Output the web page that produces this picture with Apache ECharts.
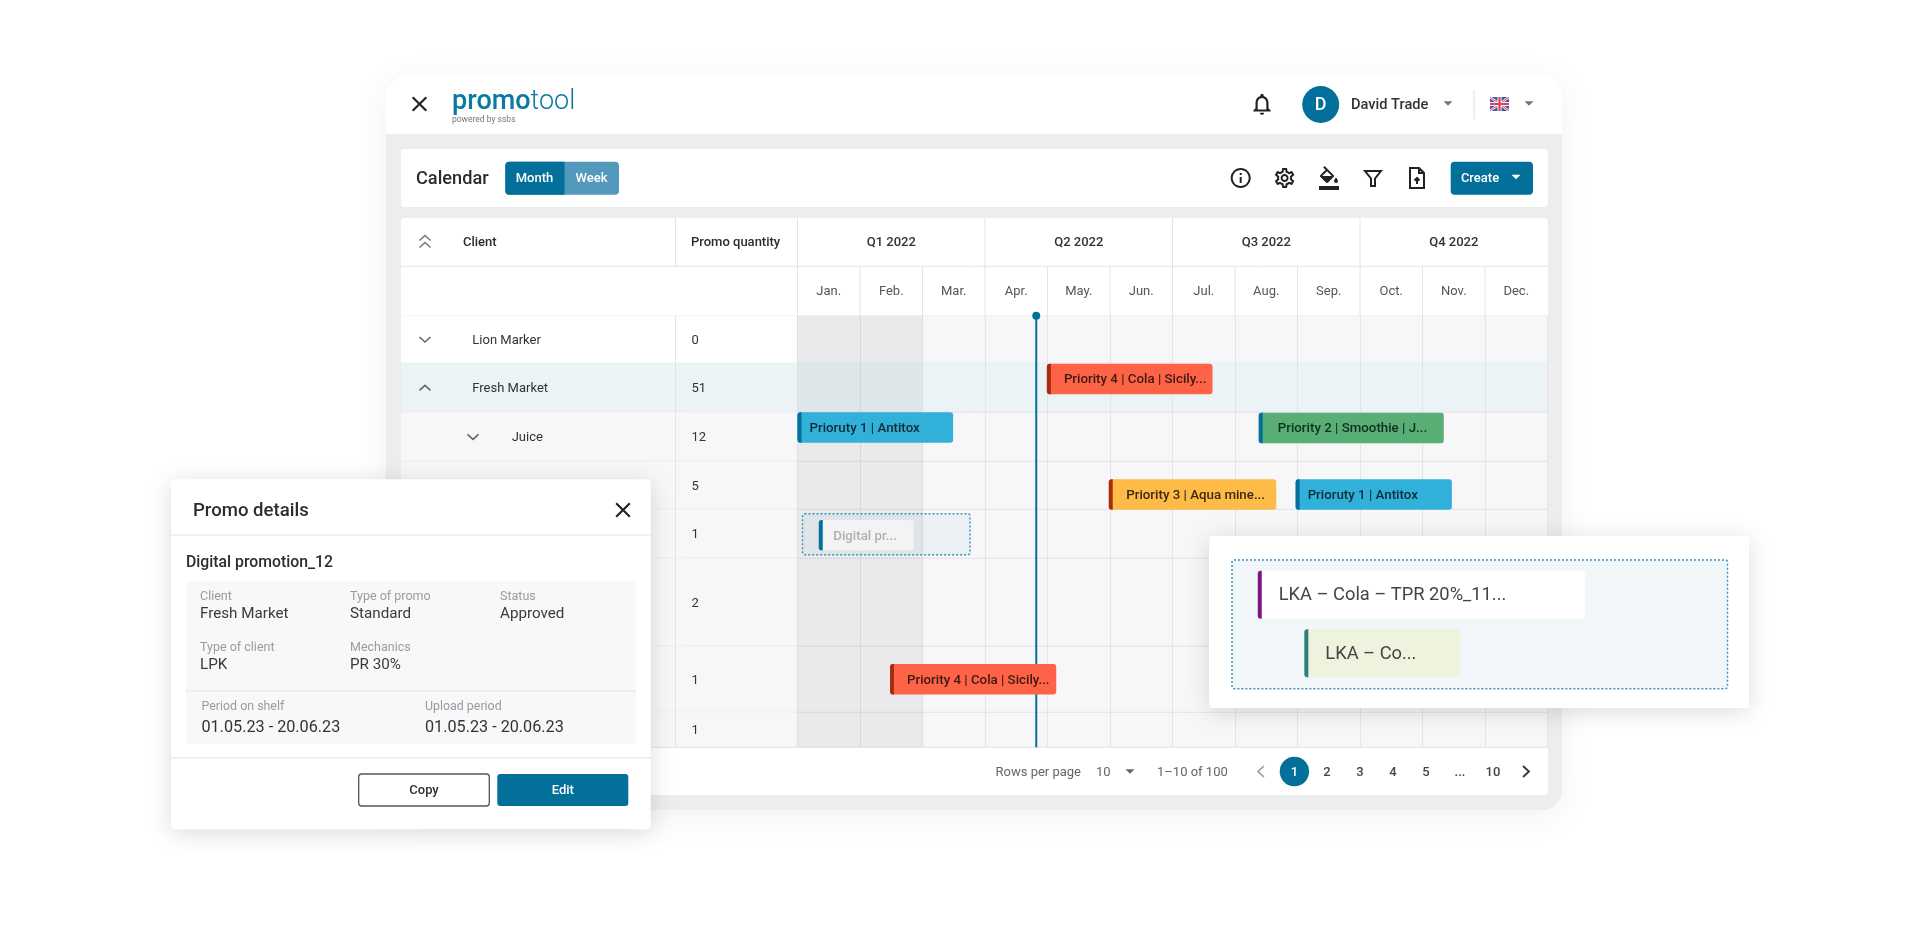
<!DOCTYPE html>
<html>
<head>
<meta charset="utf-8">
<title>promotool calendar</title>
<style>
    html, body { margin: 0; padding: 0; background: #fff; }
    #main { width: 1920px; height: 933px; }
</style>
<script src="https://cdn.jsdelivr.net/npm/echarts@6/dist/echarts.min.js"></script>
</head>
<body>
<div id="main"></div>
<script>
// table data
var months = ['Jan.', 'Feb.', 'Mar.', 'Apr.', 'May.', 'Jun.', 'Jul.', 'Aug.', 'Sep.', 'Oct.', 'Nov.', 'Dec.'];
var quarters = ['Q1 2022', 'Q2 2022', 'Q3 2022', 'Q4 2022'];
var clients = ['Lion Marker', 'Fresh Market', 'Juice', '', '', '', '', ''];
var quantities = [0, 51, 12, 5, 1, 2, 1, 1];
var shadedMonths = [0, 1];

// promos, start and end are in months from Jan.
var promoNames = ['Priority 4 | Cola | Sicily...', 'Prioruty 1 | Antitox', 'Priority 2 | Smoothie | J...', 'Priority 3 | Aqua mine...', 'Prioruty 1 | Antitox', 'Digital pr...', 'Priority 4 | Cola | Sicily...'];
var promoKinds = ['red', 'blue', 'green', 'yellow', 'blue', 'ghost', 'red'];
var promoRows = [1, 2, 2, 3, 3, 4, 6];
var promoLanes = [0.01, 0, 0.01, 0.375, 0.375, 0.22, 0.27];
var promoStart = [3.99, 0, 7.38, 4.98, 7.97, 0.34, 1.48];
var promoEnd = [6.64, 2.49, 10.34, 7.66, 10.47, 1.86, 4.14];
var slotRange = [0.08, 2.76];
var todayMonth = 3.82;

// zoomed card on the right, percent of its box
var cardNames = ['LKA \u2013 Cola \u2013 TPR 20%_11...', 'LKA \u2013 Co...'];
var cardStart = [5.2, 14.6];
var cardEnd = [71.3, 46];

// promo details popup
var detailLabels = ['Client', 'Type of promo', 'Status', 'Type of client', 'Mechanics'];
var detailValues = ['Fresh Market', 'Standard', 'Approved', 'LPK', 'PR 30%'];
var periodLabels = ['Period on shelf', 'Upload period'];
var periodValues = ['01.05.23 - 20.06.23', '01.05.23 - 20.06.23'];
var pageNumbers = ['2', '3', '4', '5', '...', '10'];

// layout
var rowHeights = [47.6, 49, 49, 48, 49, 88, 66, 35];
var kinds = {
    red: { fill: '#ff6347', stripe: '#a62c12', text: '#3a1a12', inset: 17 },
    blue: { fill: '#31b0d9', stripe: '#036f9b', text: '#0f2c38', inset: 12 },
    green: { fill: '#58ae75', stripe: '#036f9b', text: '#10301f', inset: 19 },
    yellow: { fill: '#ffbb47', stripe: '#a62c12', text: '#3d2a10', inset: 17.5 },
    ghost: { fill: '#f2f3f4', stripe: '#036f9b', text: '#aeb0b2', inset: 14.5 }
};
var cardKinds = [
    { fill: '#ffffff', stripe: '#7b1689', text: '#444444', inset: 21 },
    { fill: '#edf3dc', stripe: '#2f7f7c', text: '#444444', inset: 21 }
];
var FONT = 'Roboto';
var BLUE = '#036f9b';
var LINE = '#e3e4e6';
var TEXT_DY = 1; // Roboto sits a little high with verticalAlign middle

function rowTop(i) {
    var y = 0;
    for (var k = 0; k < i; k++) {
        y += rowHeights[k];
    }
    return y;
}

function txt(x, y, text, size, color, weight, align, z) {
    return {
        type: 'text', x: x, y: y + TEXT_DY, z: z,
        style: {
            text: text, fontSize: size, fontFamily: FONT, fontWeight: weight || 400,
            fill: color, align: align || 'left', verticalAlign: 'middle'
        }
    };
}

function box(x, y, w, h, fill, r, z, extra) {
    var style = { fill: fill };
    for (var k in extra) {
        style[k] = extra[k];
    }
    return { type: 'rect', z: z, shape: { x: x, y: y, width: w, height: h, r: r || 0 }, style: style };
}

function hline(x1, x2, y, color, z, width) {
    return { type: 'line', z: z, shape: { x1: x1, y1: y, x2: x2, y2: y }, style: { stroke: color, lineWidth: width || 1 } };
}

function vline(x, y1, y2, color, z, width) {
    return { type: 'line', z: z, shape: { x1: x, y1: y1, x2: x, y2: y2 }, style: { stroke: color, lineWidth: width || 1 } };
}

function chevron(cx, cy, w, h, color, z, width) {
    // h negative points up
    return {
        type: 'polyline', z: z,
        shape: { points: [[cx - w, cy - h], [cx, cy + h], [cx + w, cy - h]] },
        style: { stroke: color, lineWidth: width || 1.6, fill: null }
    };
}

function caret(cx, cy, color, z, size) {
    var s = size || 5;
    return {
        type: 'polygon', z: z,
        shape: { points: [[cx - s, cy - s / 2], [cx + s, cy - s / 2], [cx, cy + s / 2]] },
        style: { fill: color }
    };
}

var ICONS = {
    close: 'M19 6.41 17.59 5 12 10.59 6.41 5 5 6.41 10.59 12 5 17.59 6.41 19 12 13.41 17.59 19 19 17.59 13.41 12z',
    bell: 'M12 22c1.1 0 2-.9 2-2h-4c0 1.1.9 2 2 2zm6-6v-5c0-3.07-1.63-5.64-4.5-6.32V4c0-.83-.67-1.5-1.5-1.5s-1.5.67-1.5 1.5v.68C7.64 5.36 6 7.92 6 11v5l-2 2v1h16v-1l-2-2zm-2 1H8v-6c0-2.48 1.51-4.5 4-4.5s4 2.02 4 4.5v6z',
    info: 'M11 7h2v2h-2zm0 4h2v6h-2zm1-9C6.48 2 2 6.48 2 12s4.48 10 10 10 10-4.48 10-10S17.52 2 12 2zm0 18c-4.41 0-8-3.59-8-8s3.59-8 8-8 8 3.59 8 8-3.59 8-8 8z',
    gear: 'M19.43 12.98c.04-.32.07-.64.07-.98 0-.34-.03-.66-.07-.98l2.11-1.65c.19-.15.24-.42.12-.64l-2-3.46c-.09-.16-.26-.25-.44-.25-.06 0-.12.01-.17.03l-2.49 1c-.52-.4-1.08-.73-1.69-.98l-.38-2.65C14.46 2.18 14.25 2 14 2h-4c-.25 0-.46.18-.49.42l-.38 2.65c-.61.25-1.17.59-1.69.98l-2.49-1c-.06-.02-.12-.03-.18-.03-.17 0-.34.09-.43.25l-2 3.46c-.13.22-.07.49.12.64l2.11 1.65c-.04.32-.07.65-.07.98 0 .33.03.66.07.98l-2.11 1.65c-.19.15-.24.42-.12.64l2 3.46c.09.16.26.25.44.25.06 0 .12-.01.17-.03l2.49-1c.52.4 1.08.73 1.69.98l.38 2.65c.03.24.24.42.49.42h4c.25 0 .46-.18.49-.42l.38-2.65c.61-.25 1.17-.59 1.69-.98l2.49 1c.06.02.12.03.18.03.17 0 .34-.09.43-.25l2-3.46c.12-.22.07-.49-.12-.64l-2.11-1.65zm-1.98-1.71c.04.31.05.52.05.73 0 .21-.02.43-.05.73l-.14 1.13.89.7 1.08.84-.7 1.21-1.27-.51-1.04-.42-.9.68c-.43.32-.84.56-1.25.73l-1.06.43-.16 1.13-.2 1.35h-1.4l-.19-1.35-.16-1.13-1.06-.43c-.43-.18-.83-.41-1.23-.71l-.91-.7-1.06.43-1.27.51-.7-1.21 1.08-.84.89-.7-.14-1.13c-.03-.31-.05-.54-.05-.74s.02-.43.05-.73l.14-1.13-.89-.7-1.08-.84.7-1.21 1.27.51 1.04.42.9-.68c.43-.32.84-.56 1.25-.73l1.06-.43.16-1.13.2-1.35h1.39l.19 1.35.16 1.13 1.06.43c.43.18.83.41 1.23.71l.91.7 1.06-.43 1.27-.51.7 1.21-1.07.85-.89.7.14 1.13zM12 8c-2.21 0-4 1.79-4 4s1.79 4 4 4 4-1.79 4-4-1.79-4-4-4zm0 6c-1.1 0-2-.9-2-2s.9-2 2-2 2 .9 2 2-.9 2-2 2z',
    bucket: 'M16.56 8.94 7.62 0 6.21 1.41l2.38 2.38-5.15 5.15c-.59.59-.59 1.54 0 2.12l5.5 5.5c.29.29.68.44 1.06.44s.77-.15 1.06-.44l5.5-5.5c.59-.58.59-1.53 0-2.12zM5.21 10 10 5.21 14.79 10H5.21zM19 11.5s-2 2.17-2 3.5c0 1.1.9 2 2 2s2-.9 2-2c0-1.33-2-3.5-2-3.5zM2 20h20v4H2z',
    filter: 'M4 5h16l-6 7.5V20h-4v-7.5z',
    file: 'M6 2h8l5 5v15H5V2zM14 2v5h5M12 18v-6M9.5 14.5 12 12l2.5 2.5'
};

// graphic has no plain path type, so the icons are registered as shapes
for (var iconName in ICONS) {
    echarts.graphic.registerShape('icon_' + iconName, echarts.graphic.extendPath(ICONS[iconName], {}));
}

function icon(name, cx, cy, size, z, style) {
    var s = size / 24;
    return {
        type: 'icon_' + name, z: z,
        x: cx - size / 2, y: cy - size / 2, scaleX: s, scaleY: s,
        style: style || { fill: '#222222' }
    };
}

// window, toolbar and table frame, all below the chart grid
function chromeElements() {
    var z = -5;
    var els = [];
    els.push(box(386, 75, 1176, 735, '#ecedef', 20, z, { shadowBlur: 36, shadowColor: 'rgba(0,0,0,0.06)', shadowOffsetY: 6 }));
    els.push(box(386, 75, 1176, 59, '#ffffff', [20, 20, 0, 0], z));
    els.push(icon('close', 419.5, 104, 26, z));
    els.push({
        type: 'text', x: 452, y: 102.5, z: z,
        style: {
            text: '{a|promo}{b|tool}', fontFamily: FONT, verticalAlign: 'middle',
            rich: {
                a: { fontSize: 27, fontWeight: 500, fontFamily: FONT, fill: '#0a7aa0' },
                b: { fontSize: 27, fontWeight: 300, fontFamily: FONT, fill: '#0a7aa0' }
            }
        }
    });
    els.push(txt(452, 119, 'powered by ssbs', 8.5, '#777777', 400, 'left', z));
    els.push(icon('bell', 1262, 104, 26, z));
    els.push({ type: 'circle', z: z, shape: { cx: 1320.7, cy: 104.5, r: 18.5 }, style: { fill: BLUE } });
    els.push(txt(1320.7, 104.5, 'D', 18, '#ffffff', 500, 'center', z));
    els.push(txt(1351, 104, 'David Trade', 14.6, '#333333', 500, 'left', z));
    els.push(caret(1448, 103.5, '#777777', z, 4.5));
    els.push(vline(1474, 90, 119, '#dddddd', z));
    els = els.concat(flag(1490, 97, 19, 14, z));
    els.push(caret(1529, 103.5, '#777777', z, 4.5));

    els.push(box(401, 149, 1147, 58, '#ffffff', 4, z));
    els.push(txt(416, 178, 'Calendar', 18.2, '#2c2c2c', 500, 'left', z));
    els.push(box(505.3, 161.7, 113.7, 33, '#5399bd', 4, z));
    els.push(box(505.3, 161.7, 59.2, 33, BLUE, [4, 0, 0, 4], z));
    els.push(txt(534.5, 178, 'Month', 13, '#ffffff', 500, 'center', z));
    els.push(txt(591.5, 178, 'Week', 13, '#ffffff', 500, 'center', z));
    els.push(icon('info', 1240.7, 178, 24, z));
    els.push(icon('gear', 1284.6, 178, 24, z));
    els.push(icon('bucket', 1329, 178, 24, z));
    els.push(icon('filter', 1373, 178, 24, z, { fill: null, stroke: '#222222', lineWidth: 2 }));
    els.push(icon('file', 1417, 178, 24, z, { fill: null, stroke: '#222222', lineWidth: 2 }));
    els.push(box(1450.7, 161.7, 82.3, 33, BLUE, 4, z));
    els.push(txt(1480, 178, 'Create', 13, '#ffffff', 500, 'center', z));
    els.push(caret(1516, 177, '#ffffff', z, 4.5));

    els.push(box(401, 218, 1147, 577, '#ffffff', 4, z));
    els.push(hline(401, 1548, 266.3, LINE, z));
    els.push(hline(401, 1548, 316, LINE, z));
    els.push(vline(675.5, 218, 266, LINE, z));
    els.push(vline(797.5, 218, 316, LINE, z));
    els.push(chevron(425, 238, 5.5, -2.5, '#777777', z));
    els.push(chevron(425, 245, 5.5, -2.5, '#777777', z));
    els.push(txt(463, 242, 'Client', 13, '#2c2c2c', 500, 'left', z));
    els.push(txt(691, 242, 'Promo quantity', 13, '#2c2c2c', 500, 'left', z));

    // pagination
    els.push(txt(995.5, 771.5, 'Rows per page', 13, '#666666', 400, 'left', z));
    els.push(txt(1096, 771.5, '10', 13, '#666666', 400, 'left', z));
    els.push(caret(1130, 771.5, '#666666', z, 4.5));
    els.push(txt(1157, 771.5, '1\u201310 of 100', 13, '#666666', 400, 'left', z));
    els.push({ type: 'polyline', z: z, shape: { points: [[1264, 766], [1258, 771.5], [1264, 777]] }, style: { stroke: '#999999', lineWidth: 1.6, fill: null } });
    els.push({ type: 'circle', z: z, shape: { cx: 1294.4, cy: 771.5, r: 14.7 }, style: { fill: BLUE } });
    els.push(txt(1294.4, 771.5, '1', 13, '#ffffff', 500, 'center', z));
    var pageX = [1327, 1360, 1393, 1426, 1460, 1493];
    for (var i = 0; i < pageNumbers.length; i++) {
        els.push(txt(pageX[i], 771.5, pageNumbers[i], 13, '#444444', 500, 'center', z));
    }
    els.push({ type: 'polyline', z: z, shape: { points: [[1523, 766], [1529, 771.5], [1523, 777]] }, style: { stroke: '#333333', lineWidth: 1.8, fill: null } });
    return els;
}

function flag(x, y, w, h, z) {
    var line = function (x1, y1, x2, y2, color, width) {
        return { type: 'line', z: z, shape: { x1: x1, y1: y1, x2: x2, y2: y2 }, style: { stroke: color, lineWidth: width } };
    };
    var inset = 0.4;
    return [
        box(x, y, w, h, '#3c5aa6', 0, z),
        line(x + inset, y + inset, x + w - inset, y + h - inset, '#ffffff', 2.4),
        line(x + inset, y + h - inset, x + w - inset, y + inset, '#ffffff', 2.4),
        line(x + inset, y + inset, x + w - inset, y + h - inset, '#e0405a', 1),
        line(x + inset, y + h - inset, x + w - inset, y + inset, '#e0405a', 1),
        line(x + w / 2, y, x + w / 2, y + h, '#ffffff', 4),
        line(x, y + h / 2, x + w, y + h / 2, '#ffffff', 4),
        line(x + w / 2, y, x + w / 2, y + h, '#e0405a', 2.2),
        line(x, y + h / 2, x + w, y + h / 2, '#e0405a', 2.2)
    ];
}

// the two floating panels
function popupElements() {
    var z = 50;
    var els = [];
    var shadow = { shadowBlur: 24, shadowColor: 'rgba(0,0,0,0.14)', shadowOffsetY: 4 };
    els.push(box(1209, 536, 540, 172, '#ffffff', 4, z, shadow));
    els.push(box(1232, 560, 495.5, 128.7, '#f1f6f9', 2, z, { stroke: '#3a96bd', lineWidth: 1.5, lineDash: [2, 2] }));

    els.push(box(171, 479.3, 479.7, 350, '#ffffff', 4, z, shadow));
    els.push(txt(193, 510, 'Promo details', 18.6, '#2c2c2c', 500, 'left', z));
    els.push(icon('close', 623, 510, 26, z));
    els.push(hline(171, 650.7, 535, '#e4e5e7', z));
    els.push(txt(186, 562, 'Digital promotion_12', 15.8, '#2c2c2c', 500, 'left', z));
    els.push(box(186, 581, 449.7, 163, '#f7f8fa', 4, z));
    var colX = [200, 350, 500, 200, 350];
    var labelY = [596, 596, 596, 647, 647];
    for (var i = 0; i < detailLabels.length; i++) {
        els.push(txt(colX[i], labelY[i], detailLabels[i], 12.5, '#9a9b9d', 400, 'left', z));
        els.push(txt(colX[i], labelY[i] + 17.5, detailValues[i], 15.2, '#3a3a3a', 400, 'left', z));
    }
    els.push(hline(186, 635.7, 691, '#e4e5e7', z));
    var periodX = [201.5, 425];
    for (var j = 0; j < periodLabels.length; j++) {
        els.push(txt(periodX[j], 706, periodLabels[j], 12.4, '#9a9b9d', 400, 'left', z));
        els.push(txt(periodX[j], 727, periodValues[j], 16.2, '#333333', 400, 'left', z));
    }
    els.push(hline(171, 650.7, 757.7, '#e9eaec', z, 1.5));
    els.push(box(358.7, 774, 130.6, 32, '#ffffff', 3, z, { stroke: '#555555', lineWidth: 1.3 }));
    els.push(txt(424, 790, 'Copy', 13, '#2c2c2c', 500, 'center', z));
    els.push(box(497.3, 774, 131, 32, BLUE, 3, z));
    els.push(txt(562.8, 790, 'Edit', 13, '#ffffff', 500, 'center', z));
    return els;
}

function renderRow(params, api) {
    var i = api.value(0);
    var top = api.coord([0, rowTop(i)])[1];
    var bottom = api.coord([0, rowTop(i) + rowHeights[i]])[1];
    var mid = (top + bottom) / 2 + TEXT_DY;
    var fill = i === 0 ? '#ffffff' : (i === 1 ? '#ebf3f6' : '#f7f7f9');
    var gridRight = api.coord([12, 0])[0];
    var gridLeft = api.coord([0, 0])[0];
    var children = [];
    // the first row is white only on the left, months keep the grid colour
    children.push(box(401, top, gridLeft - 401, bottom - top, fill));
    if (i === 1) {
        children.push(box(gridLeft, top, gridRight - gridLeft, bottom - top, fill));
    }
    children.push(hline(401, gridRight, bottom, '#e0e2e4'));
    children.push(vline(675.5, top, bottom, LINE));
    if (clients[i]) {
        var depth = i === 2 ? 1 : 0;
        children.push(chevron(depth ? 473 : 425, mid - TEXT_DY, 5.5, i === 1 ? -2.5 : 2.5, '#666666', undefined));
        children.push({
            type: 'text', x: depth ? 511.7 : 472.3, y: mid,
            style: { text: clients[i], fontSize: 13, fontFamily: FONT, fill: '#333333', verticalAlign: 'middle' }
        });
    }
    children.push({
        type: 'text', x: 691.5, y: mid,
        style: { text: String(quantities[i]), fontSize: 13, fontFamily: FONT, fill: '#333333', verticalAlign: 'middle' }
    });
    return { type: 'group', children: children };
}

function renderShade(params, api) {
    var m = api.value(0);
    var a = api.coord([m, 0]);
    var b = api.coord([m + 1, rowTop(rowHeights.length)]);
    return box(a[0], a[1], b[0] - a[0], b[1] - a[1], 'rgba(0,0,0,0.05)');
}

function renderHeaderLine(params, api) {
    // one tick per month edge, quarter edges reach into the top header row
    var m = api.value(0);
    var x = api.coord([m, 0])[0];
    return vline(x, m % 3 === 0 ? 218 : 266, 316, LINE);
}

function drawBar(x1, x2, y, h, name, kind, size) {
    return {
        type: 'group',
        children: [
            box(x1, y, x2 - x1, h, kind.fill, 3),
            box(x1, y, 4, h, kind.stripe, [3, 0, 0, 3]),
            {
                type: 'text', x: x1 + kind.inset, y: y + h / 2 + TEXT_DY,
                style: { text: name, fontSize: size, fontFamily: FONT, fontWeight: size > 15 ? 400 : 500, fill: kind.text, verticalAlign: 'middle' }
            }
        ]
    };
}

function renderPromo(params, api) {
    var i = params.dataIndex;
    var row = promoRows[i];
    var yVal = rowTop(row) + promoLanes[i] * rowHeights[row];
    var p1 = api.coord([promoStart[i], yVal]);
    var p2 = api.coord([promoEnd[i], yVal]);
    return drawBar(p1[0], p2[0], p1[1], 30.5, promoNames[i], kinds[promoKinds[i]], 13.3);
}

function renderSlot(params, api) {
    var row = api.value(2);
    var yVal = rowTop(row) + 0.09 * rowHeights[row];
    var p1 = api.coord([api.value(0), yVal]);
    var p2 = api.coord([api.value(1), yVal]);
    return box(p1[0], p1[1], p2[0] - p1[0], 41, 'rgba(3,111,155,0.05)', 2, undefined, { stroke: '#3a96bd', lineWidth: 1.5, lineDash: [2, 2] });
}

function renderCard(params, api) {
    var i = params.dataIndex;
    var p1 = api.coord([cardStart[i], i]);
    var p2 = api.coord([cardEnd[i], i]);
    return drawBar(p1[0], p2[0], p1[1] - 24, 48, cardNames[i], cardKinds[i], 18.3);
}

function calendar() {
    var dom = document.getElementById('main');
    var myChart = echarts.init(dom);
    var monthCenters = months.map(function (m, i) { return i + 0.5; });
    var quarterCenters = quarters.map(function (q, i) { return i * 3 + 1.5; });
    var yMax = rowTop(rowHeights.length);
    var option = {
        animation: false,
        backgroundColor: '#ffffff',
        textStyle: { fontFamily: FONT },
        grid: [
            { left: 797.5, top: 315.7, width: 750, height: yMax, show: true, backgroundColor: '#f7f7f9', borderWidth: 0 },
            { left: 1232, top: 565.5, width: 495.5, height: 117, show: false }
        ],
        xAxis: [
            {
                type: 'value', gridIndex: 0, position: 'top', min: 0, max: 12, interval: 1, z: 3,
                axisLine: { show: false },
                axisTick: { show: false },
                splitLine: { show: true, lineStyle: { color: LINE, width: 1 } },
                axisLabel: {
                    customValues: monthCenters, margin: 17, fontSize: 13, color: '#555555', fontFamily: FONT,
                    formatter: function (v) { return months[Math.floor(v)]; }
                }
            },
            {
                type: 'value', gridIndex: 0, position: 'top', offset: 49.5, min: 0, max: 12,
                axisLine: { show: false },
                axisTick: { show: false },
                splitLine: { show: false },
                axisLabel: {
                    customValues: quarterCenters, margin: 17, fontSize: 13, fontWeight: 500, color: '#333333', fontFamily: FONT,
                    formatter: function (v) { return quarters[Math.floor(v / 3)]; }
                }
            },
            { type: 'value', gridIndex: 1, min: 0, max: 100, show: false }
        ],
        yAxis: [
            { type: 'value', gridIndex: 0, inverse: true, min: 0, max: yMax, show: false },
            { type: 'category', gridIndex: 1, inverse: true, data: ['top', 'bottom'], show: false }
        ],
        graphic: { elements: chromeElements().concat(popupElements()) },
        series: [
            {
                name: 'rows', type: 'custom', z: 1, clip: false, silent: true,
                xAxisIndex: 0, yAxisIndex: 0, renderItem: renderRow,
                data: clients.map(function (c, i) { return [i]; }),
                encode: { x: -1, y: -1 }
            },
            {
                name: 'shade', type: 'custom', z: 4, silent: true,
                xAxisIndex: 0, yAxisIndex: 0, renderItem: renderShade,
                data: shadedMonths.map(function (m) { return [m]; }),
                encode: { x: -1, y: -1 }
            },
            {
                name: 'header', type: 'custom', z: 2, clip: false, silent: true,
                xAxisIndex: 0, yAxisIndex: 0, renderItem: renderHeaderLine,
                data: months.map(function (m, i) { return [i]; }).slice(1),
                encode: { x: -1, y: -1 }
            },
            {
                name: 'today', type: 'line', z: 8, silent: true,
                xAxisIndex: 0, yAxisIndex: 0,
                data: [
                    { value: [todayMonth, 0], symbol: 'circle', symbolSize: 8 },
                    { value: [todayMonth, yMax], symbol: 'none' }
                ],
                clip: false,
                lineStyle: { color: BLUE, width: 2 },
                itemStyle: { color: BLUE }
            },
            {
                name: 'slot', type: 'custom', z: 9, silent: true,
                xAxisIndex: 0, yAxisIndex: 0, renderItem: renderSlot,
                data: [[slotRange[0], slotRange[1], 4]],
                encode: { x: [0, 1], y: -1 }
            },
            {
                name: 'promos', type: 'custom', z: 10, silent: true,
                xAxisIndex: 0, yAxisIndex: 0, renderItem: renderPromo,
                data: promoNames.map(function (n, i) { return [promoStart[i], promoEnd[i]]; }),
                encode: { x: [0, 1], y: -1 }
            },
            {
                name: 'cards', type: 'custom', z: 60, silent: true,
                xAxisIndex: 2, yAxisIndex: 1, renderItem: renderCard,
                data: cardNames.map(function (n, i) { return [cardStart[i], cardEnd[i]]; }),
                encode: { x: [0, 1], y: -1 }
            }
        ]
    };
    myChart.setOption(option, true);
    window.onresize = myChart.resize;
}

calendar();
</script>
</body>
</html>
